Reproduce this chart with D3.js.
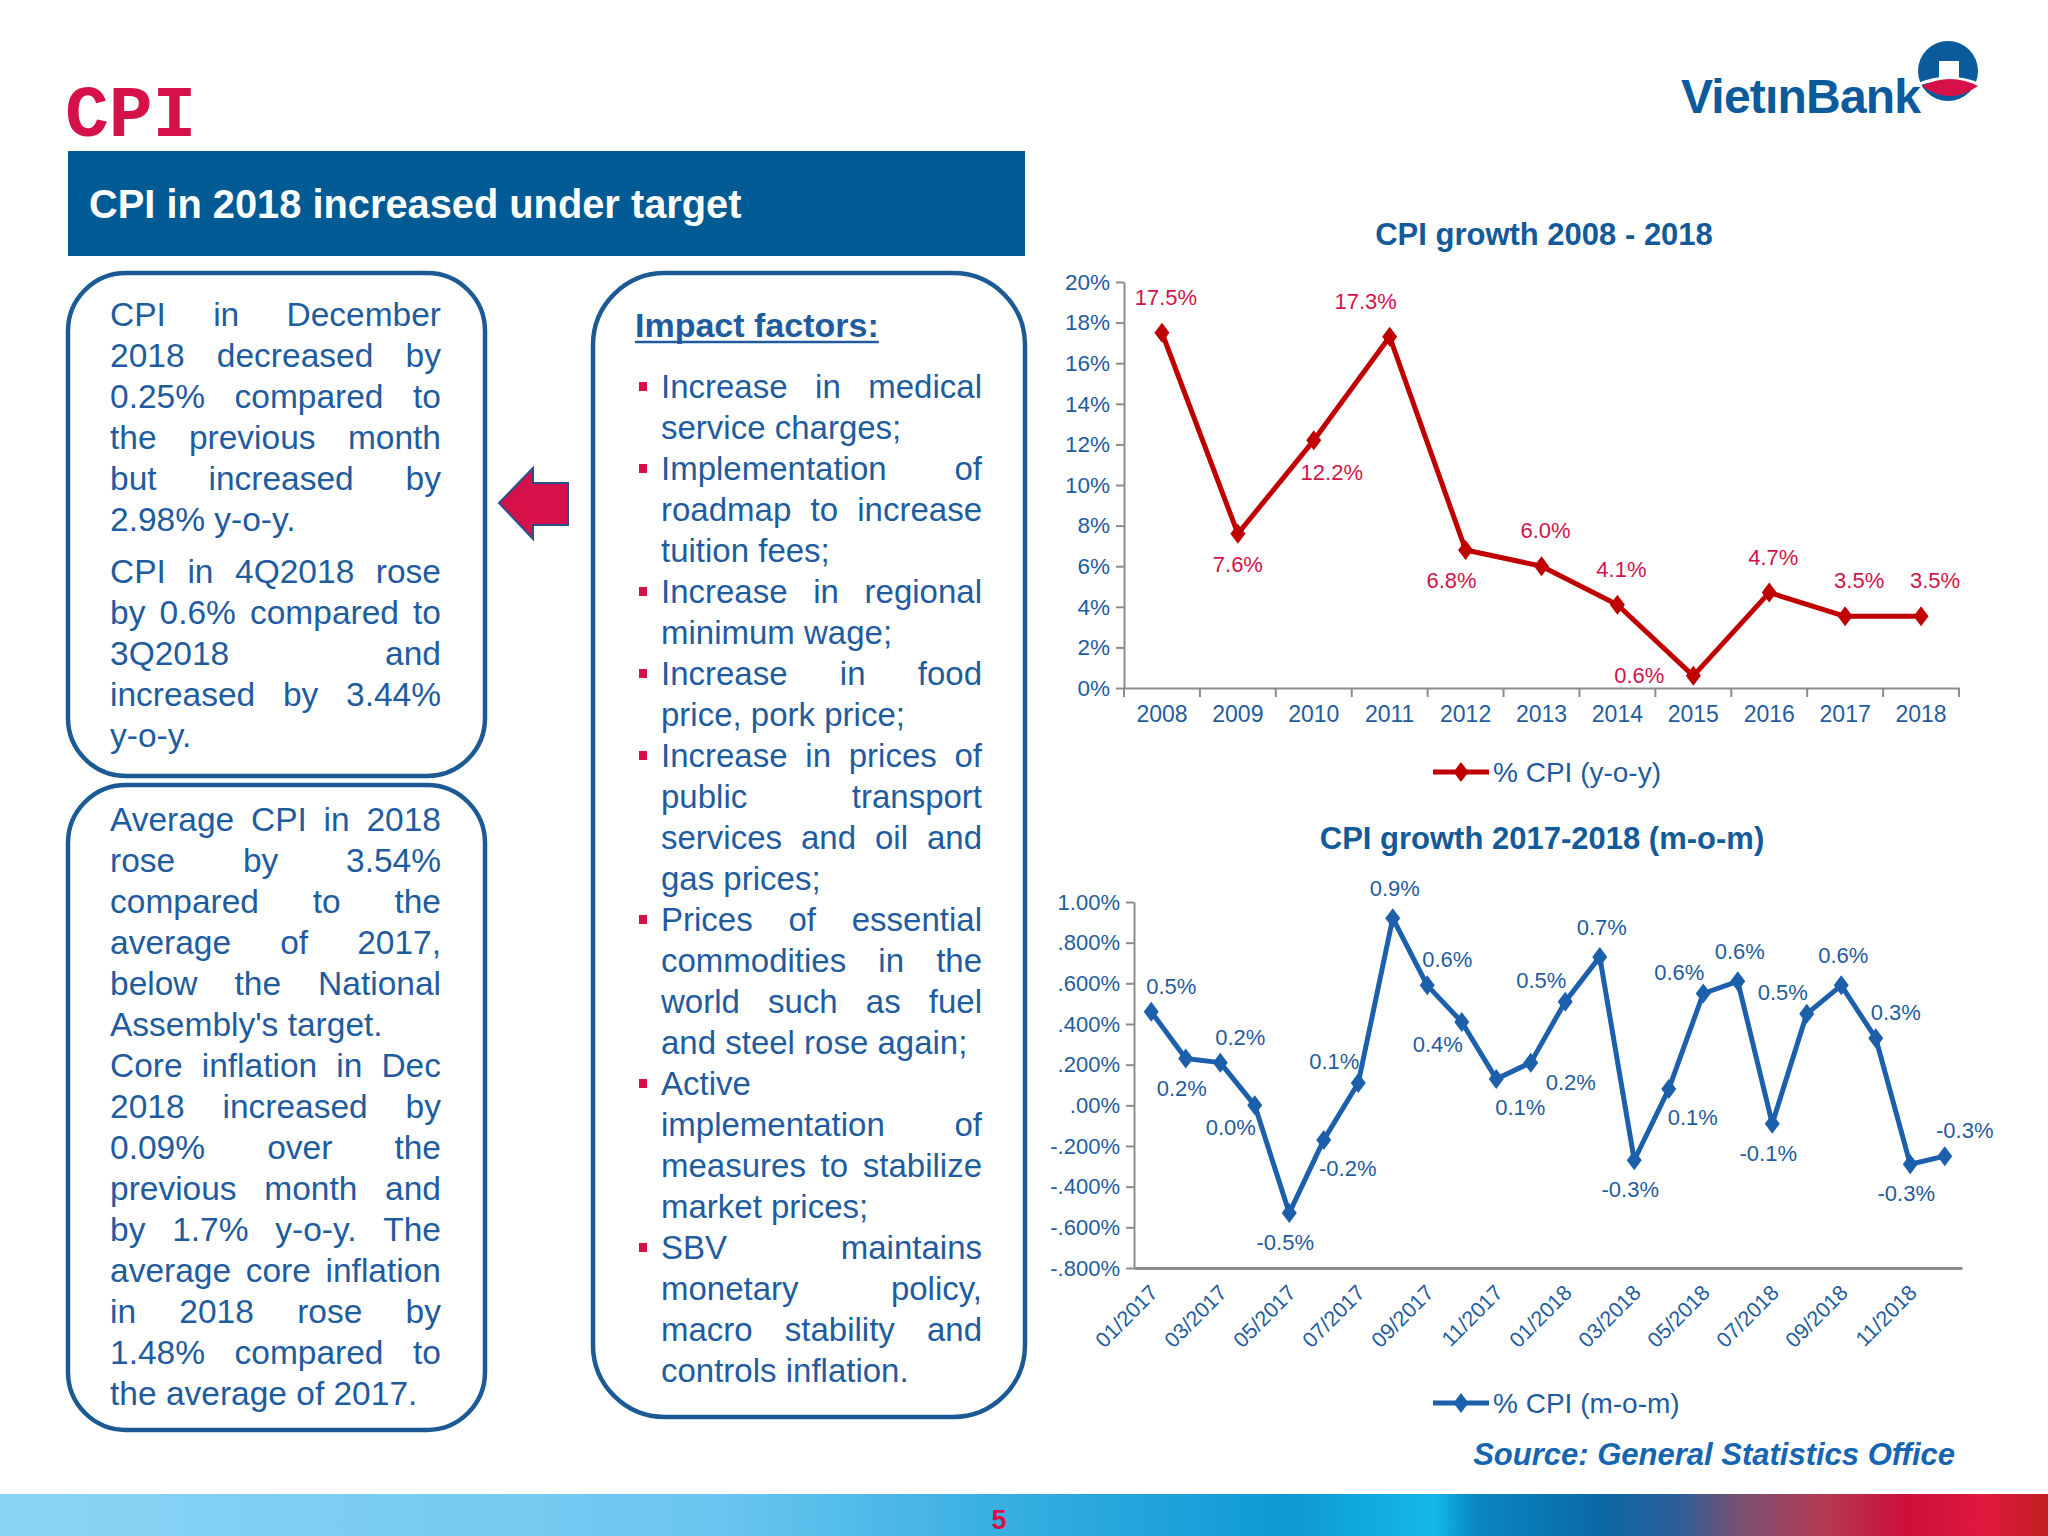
<!DOCTYPE html>
<html>
<head>
<meta charset="utf-8">
<script src="https://cdn.jsdelivr.net/npm/d3@7"></script>
<style>
  html, body { margin: 0; padding: 0; background: #ffffff; }
  svg { display: block; }
  text { font-family: "Liberation Sans", Arial, sans-serif; }
</style>
</head>
<body>
<svg id="slide" width="2048" height="1536"></svg>
<script>
// ---------------- DATA ----------------
const years = ["2008","2009","2010","2011","2012","2013","2014","2015","2016","2017","2018"];
const cpiYoY = [17.5, 7.6, 12.2, 17.3, 6.8, 6.0, 4.1, 0.6, 4.7, 3.53, 3.54];
const yoyTicks = [0, 2, 4, 6, 8, 10, 12, 14, 16, 18, 20];
const yoyLabelPlace = ["t","b","br","tl","bl","t","t","l","t","tr","tr"];

const months = ["01/2017","02/2017","03/2017","04/2017","05/2017","06/2017","07/2017","08/2017","09/2017","10/2017","11/2017","12/2017",
                "01/2018","02/2018","03/2018","04/2018","05/2018","06/2018","07/2018","08/2018","09/2018","10/2018","11/2018","12/2018"];
const cpiMoM = [0.46, 0.23, 0.21, 0.00, -0.53, -0.17, 0.11, 0.92, 0.59, 0.41, 0.13, 0.21,
                0.51, 0.73, -0.27, 0.08, 0.55, 0.61, -0.09, 0.45, 0.59, 0.33, -0.29, -0.25];
const momTicks = [-0.8, -0.6, -0.4, -0.2, 0, 0.2, 0.4, 0.6, 0.8, 1.0];
const momTickLabels = ["-.800%","-.600%","-.400%","-.200%",".00%",".200%",".400%",".600%",".800%","1.00%"];
const momLabelPlace = ["tr","b","tr","bl","b","br","tl","t","tr","bl","br","r",
                       "tl","t","b","br","tl","t","b","tl","t","tr","b","tr"];

const box1Paras = [
  ["CPI in December", "2018 decreased by", "0.25% compared to", "the previous month", "but increased by", "2.98% y-o-y."],
  ["CPI in 4Q2018 rose", "by 0.6% compared to", "3Q2018 and", "increased by 3.44%", "y-o-y."]
];
const box2Paras = [
  ["Average CPI in 2018", "rose by 3.54%", "compared to the", "average of 2017,", "below the National", "Assembly's target."],
  ["Core inflation in Dec", "2018 increased by", "0.09% over the", "previous month and", "by 1.7% y-o-y. The", "average core inflation", "in 2018 rose by", "1.48% compared to", "the average of 2017."]
];
const factorsTitle = "Impact factors:";
const factorItems = [
  ["Increase in medical", "service charges;"],
  ["Implementation of", "roadmap to increase", "tuition fees;"],
  ["Increase in regional", "minimum wage;"],
  ["Increase in food", "price, pork price;"],
  ["Increase in prices of", "public transport", "services and oil and", "gas prices;"],
  ["Prices of essential", "commodities in the", "world such as fuel", "and steel rose again;"],
  ["Active", "implementation of", "measures to stabilize", "market prices;"],
  ["SBV maintains", "monetary policy,", "macro stability and", "controls inflation."]
];

// ---------------- STYLE ----------------
const C = {
  crimson: "#D6114A",
  banner: "#005B94",
  text: "#1F5C9E",
  box: "#1B5A92",
  red: "#C00000",
  redLabel: "#D0134B",
  blue: "#1C5FAA",
  axis: "#8C8C8C",
  title: "#135A99"
};

const svg = d3.select("#slide");

// ---------------- HEADER ----------------
svg.append("text").attr("x", 65).attr("y", 136)
  .style("font-family", "'Liberation Mono', 'Courier New', monospace")
  .attr("font-weight", "bold").attr("font-size", 73).attr("fill", C.crimson).text("CPI");

svg.append("rect").attr("x", 68).attr("y", 151).attr("width", 957).attr("height", 105).attr("fill", C.banner);
svg.append("text").attr("x", 89).attr("y", 218).attr("font-weight", "bold").attr("font-size", 39.8)
  .attr("fill", "#ffffff").text("CPI in 2018 increased under target");

// logo
const logo = svg.append("g");
logo.append("text").attr("x", 1681).attr("y", 113).attr("font-weight", "bold").attr("font-size", 48)
  .attr("fill", "#0B5A9B").attr("letter-spacing", -0.8).text("VietınBank");
logo.append("circle").attr("cx", 1948).attr("cy", 71).attr("r", 30).attr("fill", "#0B5A9B");
logo.append("rect").attr("x", 1939).attr("y", 61).attr("width", 20).attr("height", 22).attr("fill", "#fff");
logo.append("path").attr("d", "M1918,83 Q1948,70 1980,83 L1980,86 Q1948,75 1918,86 Z").attr("fill", "#fff");
logo.append("path").attr("d", "M1922,86 Q1950,72 1978,86 Q1950,106 1922,86 Z").attr("fill", C.crimson);

// ---------------- TEXT BOXES ----------------
function measure(g, str, attrs) {
  const t = g.append("text").attr("x", -9999).attr("y", -9999);
  Object.entries(attrs).forEach(([k, v]) => t.attr(k, v));
  t.text(str);
  const w = t.node().getComputedTextLength();
  t.remove();
  return w;
}
function drawPara(g, lines, x0, x1, y0, lh, fs) {
  lines.forEach((line, i) => {
    const y = y0 + i * lh;
    const words = line.split(" ");
    const last = i === lines.length - 1;
    if (last || words.length === 1) {
      g.append("text").attr("x", x0).attr("y", y).attr("font-size", fs).attr("fill", C.text).text(line);
    } else {
      const widths = words.map(w => measure(g, w, { "font-size": fs }));
      const gap = (x1 - x0 - d3.sum(widths)) / (words.length - 1);
      let x = x0;
      words.forEach((w, j) => {
        g.append("text").attr("x", x).attr("y", y).attr("font-size", fs).attr("fill", C.text).text(w);
        x += widths[j] + gap;
      });
    }
  });
  return y0 + lines.length * lh;
}

const boxes = svg.append("g");
boxes.append("rect").attr("x", 68).attr("y", 273).attr("width", 417).attr("height", 503).attr("rx", 58)
  .attr("fill", "#fff").attr("stroke", C.box).attr("stroke-width", 4.5);
boxes.append("rect").attr("x", 68).attr("y", 785).attr("width", 417).attr("height", 645).attr("rx", 58)
  .attr("fill", "#fff").attr("stroke", C.box).attr("stroke-width", 4.5);
boxes.append("rect").attr("x", 593).attr("y", 273).attr("width", 432).attr("height", 1144).attr("rx", 72)
  .attr("fill", "#fff").attr("stroke", C.box).attr("stroke-width", 4.5);

const lh = 41;
const fsLeft = 33.5, fsMid = 33;
let yNext = drawPara(boxes, box1Paras[0], 110, 441, 326, lh, fsLeft);
drawPara(boxes, box1Paras[1], 110, 441, yNext + 11, lh, fsLeft);
yNext = drawPara(boxes, box2Paras[0], 110, 441, 831, lh, fsLeft);
drawPara(boxes, box2Paras[1], 110, 441, yNext, lh, fsLeft);

// impact factors
const ftW = measure(boxes, factorsTitle, { "font-size": 34, "font-weight": "bold" });
boxes.append("text").attr("x", 635).attr("y", 337).attr("font-size", 34).attr("font-weight", "bold")
  .attr("fill", C.text).text(factorsTitle);
boxes.append("line").attr("x1", 635).attr("x2", 635 + ftW).attr("y1", 342).attr("y2", 342)
  .attr("stroke", C.text).attr("stroke-width", 2.5);

let fy = 398;
factorItems.forEach(item => {
  boxes.append("rect").attr("x", 639).attr("y", fy - 16).attr("width", 8).attr("height", 9).attr("fill", C.crimson);
  fy = drawPara(boxes, item, 661, 982, fy, lh, fsMid);
});

// arrow
svg.append("path")
  .attr("d", "M499,503 L533,468 L533,483 L568,483 L568,525 L533,525 L533,539 Z")
  .attr("fill", C.crimson).attr("stroke", "#2A4F8A").attr("stroke-width", 2);

// ---------------- CHART 1 : y-o-y ----------------
const c1 = svg.append("g");
const x1 = d3.scaleBand().domain(years).range([1124, 1959]);
const y1 = d3.scaleLinear().domain([0, 20]).range([688, 282]);

c1.append("text").attr("x", 1544).attr("y", 245).attr("text-anchor", "middle").attr("font-size", 31)
  .attr("font-weight", "bold").attr("fill", C.title).text("CPI growth 2008 - 2018");

const yAx1 = c1.append("g").attr("transform", "translate(1124,0)")
  .call(d3.axisLeft(y1).tickValues(yoyTicks).tickFormat(d => d + "%").tickSize(8).tickSizeOuter(0));
yAx1.select(".domain").attr("stroke", C.axis).attr("stroke-width", 2);
yAx1.selectAll(".tick line").attr("stroke", C.axis).attr("stroke-width", 2);
yAx1.selectAll(".tick text").attr("font-size", 22.5).attr("fill", C.text).attr("x", -14)
  .style("font-family", "'Liberation Sans', Arial, sans-serif");

const xAx1 = c1.append("g").attr("transform", "translate(0,688)")
  .call(d3.axisBottom(x1).tickSize(0).tickPadding(18));
xAx1.select(".domain").attr("stroke", C.axis).attr("stroke-width", 2);
xAx1.selectAll(".tick text").attr("font-size", 23).attr("fill", C.text)
  .style("font-family", "'Liberation Sans', Arial, sans-serif");
// tick marks between categories
const bounds1 = years.map(y => x1(y)).concat([x1.range()[1]]);
c1.selectAll(".xb").data(bounds1).enter().append("line")
  .attr("x1", d => d).attr("x2", d => d).attr("y1", 688).attr("y2", 697)
  .attr("stroke", C.axis).attr("stroke-width", 2);

const cx1 = d => x1(d) + x1.bandwidth() / 2;
const line1 = d3.line().x((d, i) => cx1(years[i])).y(d => y1(d));
c1.append("path").datum(cpiYoY).attr("d", line1).attr("fill", "none")
  .attr("stroke", C.red).attr("stroke-width", 5).attr("stroke-linejoin", "round");

const diamond = s => `M0,${-s} L${s * 0.75},0 L0,${s} L${-s * 0.75},0 Z`;
c1.selectAll(".m1").data(cpiYoY).enter().append("path")
  .attr("d", diamond(10)).attr("fill", C.red)
  .attr("transform", (d, i) => `translate(${cx1(years[i])},${y1(d)})`);

const place1 = { t: [4, -28], b: [0, 38], br: [18, 40], tl: [-24, -28], bl: [-14, 38], tr: [14, -28], l: [-54, 7] };
c1.selectAll(".l1").data(cpiYoY).enter().append("text")
  .attr("x", (d, i) => cx1(years[i]) + place1[yoyLabelPlace[i]][0])
  .attr("y", (d, i) => y1(d) + place1[yoyLabelPlace[i]][1])
  .attr("text-anchor", "middle").attr("font-size", 22).attr("fill", C.redLabel)
  .text(d => d.toFixed(1) + "%");

// legend 1
c1.append("line").attr("x1", 1433).attr("x2", 1489).attr("y1", 772).attr("y2", 772)
  .attr("stroke", C.red).attr("stroke-width", 5);
c1.append("path").attr("d", diamond(10)).attr("fill", C.red).attr("transform", "translate(1461,772)");
c1.append("text").attr("x", 1493).attr("y", 782).attr("font-size", 28).attr("fill", C.text).text("% CPI (y-o-y)");

// ---------------- CHART 2 : m-o-m ----------------
const c2 = svg.append("g");
const x2 = d3.scaleBand().domain(months).range([1134, 1962]);
const y2 = d3.scaleLinear().domain([-0.8, 1.0]).range([1268, 902]);

c2.append("text").attr("x", 1542).attr("y", 849).attr("text-anchor", "middle").attr("font-size", 31)
  .attr("font-weight", "bold").attr("fill", C.title).text("CPI growth 2017-2018 (m-o-m)");

const yAx2 = c2.append("g").attr("transform", "translate(1134,0)")
  .call(d3.axisLeft(y2).tickValues(momTicks).tickFormat((d, i) => momTickLabels[i]).tickSize(8).tickSizeOuter(0));
yAx2.select(".domain").attr("stroke", C.axis).attr("stroke-width", 2);
yAx2.selectAll(".tick line").attr("stroke", C.axis).attr("stroke-width", 2);
yAx2.selectAll(".tick text").attr("font-size", 22).attr("fill", C.text).attr("x", -14)
  .style("font-family", "'Liberation Sans', Arial, sans-serif");

const xAx2 = c2.append("g").attr("transform", "translate(0,1268)")
  .call(d3.axisBottom(x2).tickSize(0).tickFormat((d, i) => i % 2 === 0 ? d : ""));
xAx2.select(".domain").attr("stroke", C.axis).attr("stroke-width", 3);
xAx2.selectAll(".tick text").attr("font-size", 21.5).attr("fill", C.text)
  .style("font-family", "'Liberation Sans', Arial, sans-serif")
  .attr("text-anchor", "end").attr("dy", 0).attr("y", 0)
  .attr("transform", "translate(8,26) rotate(-45)");

const cx2 = d => x2(d) + x2.bandwidth() / 2;
const line2 = d3.line().x((d, i) => cx2(months[i])).y(d => y2(d));
c2.append("path").datum(cpiMoM).attr("d", line2).attr("fill", "none")
  .attr("stroke", C.blue).attr("stroke-width", 5).attr("stroke-linejoin", "round");
c2.selectAll(".m2").data(cpiMoM).enter().append("path")
  .attr("d", diamond(10)).attr("fill", C.blue)
  .attr("transform", (d, i) => `translate(${cx2(months[i])},${y2(d)})`);

const place2 = { t: [2, -22], b: [-4, 37], tr: [20, -18], tl: [-24, -14], br: [24, 36], bl: [-24, 30], r: [40, 27] };
c2.selectAll(".l2").data(cpiMoM).enter().append("text")
  .attr("x", (d, i) => cx2(months[i]) + place2[momLabelPlace[i]][0])
  .attr("y", (d, i) => y2(d) + place2[momLabelPlace[i]][1])
  .attr("text-anchor", "middle").attr("font-size", 22).attr("fill", C.text)
  .text(d => d.toFixed(1) + "%");

// legend 2
c2.append("line").attr("x1", 1433).attr("x2", 1489).attr("y1", 1403).attr("y2", 1403)
  .attr("stroke", C.blue).attr("stroke-width", 5);
c2.append("path").attr("d", diamond(10)).attr("fill", C.blue).attr("transform", "translate(1461,1403)");
c2.append("text").attr("x", 1493).attr("y", 1413).attr("font-size", 28).attr("fill", C.text).text("% CPI (m-o-m)");

// source
svg.append("text").attr("x", 1955).attr("y", 1465).attr("text-anchor", "end").attr("font-size", 31)
  .attr("font-weight", "bold").attr("font-style", "italic").attr("fill", "#1565B0")
  .text("Source: General Statistics Office");

// ---------------- FOOTER BAR ----------------
const defs = svg.append("defs");
const grad = defs.append("linearGradient").attr("id", "bar").attr("x1", "0").attr("x2", "1").attr("y1", "0").attr("y2", "0");
[[0, "#8AD4F3"], [0.2, "#7ACCF1"], [0.35, "#6AC6F0"], [0.5, "#33ADE0"], [0.63, "#0E98D4"],
 [0.7, "#14B8EA"], [0.72, "#0A88C2"], [0.78, "#0B68A6"], [0.82, "#2D5E98"], [0.85, "#7A5070"],
 [0.89, "#B23A52"], [0.93, "#CC103A"], [0.97, "#E0183E"], [1, "#C02020"]]
  .forEach(([o, c]) => grad.append("stop").attr("offset", o).attr("stop-color", c));
svg.append("rect").attr("x", 0).attr("y", 1494).attr("width", 2048).attr("height", 42).attr("fill", "url(#bar)");
svg.append("text").attr("x", 999).attr("y", 1529).attr("text-anchor", "middle").attr("font-size", 27)
  .attr("font-weight", "bold").attr("fill", C.crimson).text("5");
</script>
</body>
</html>
